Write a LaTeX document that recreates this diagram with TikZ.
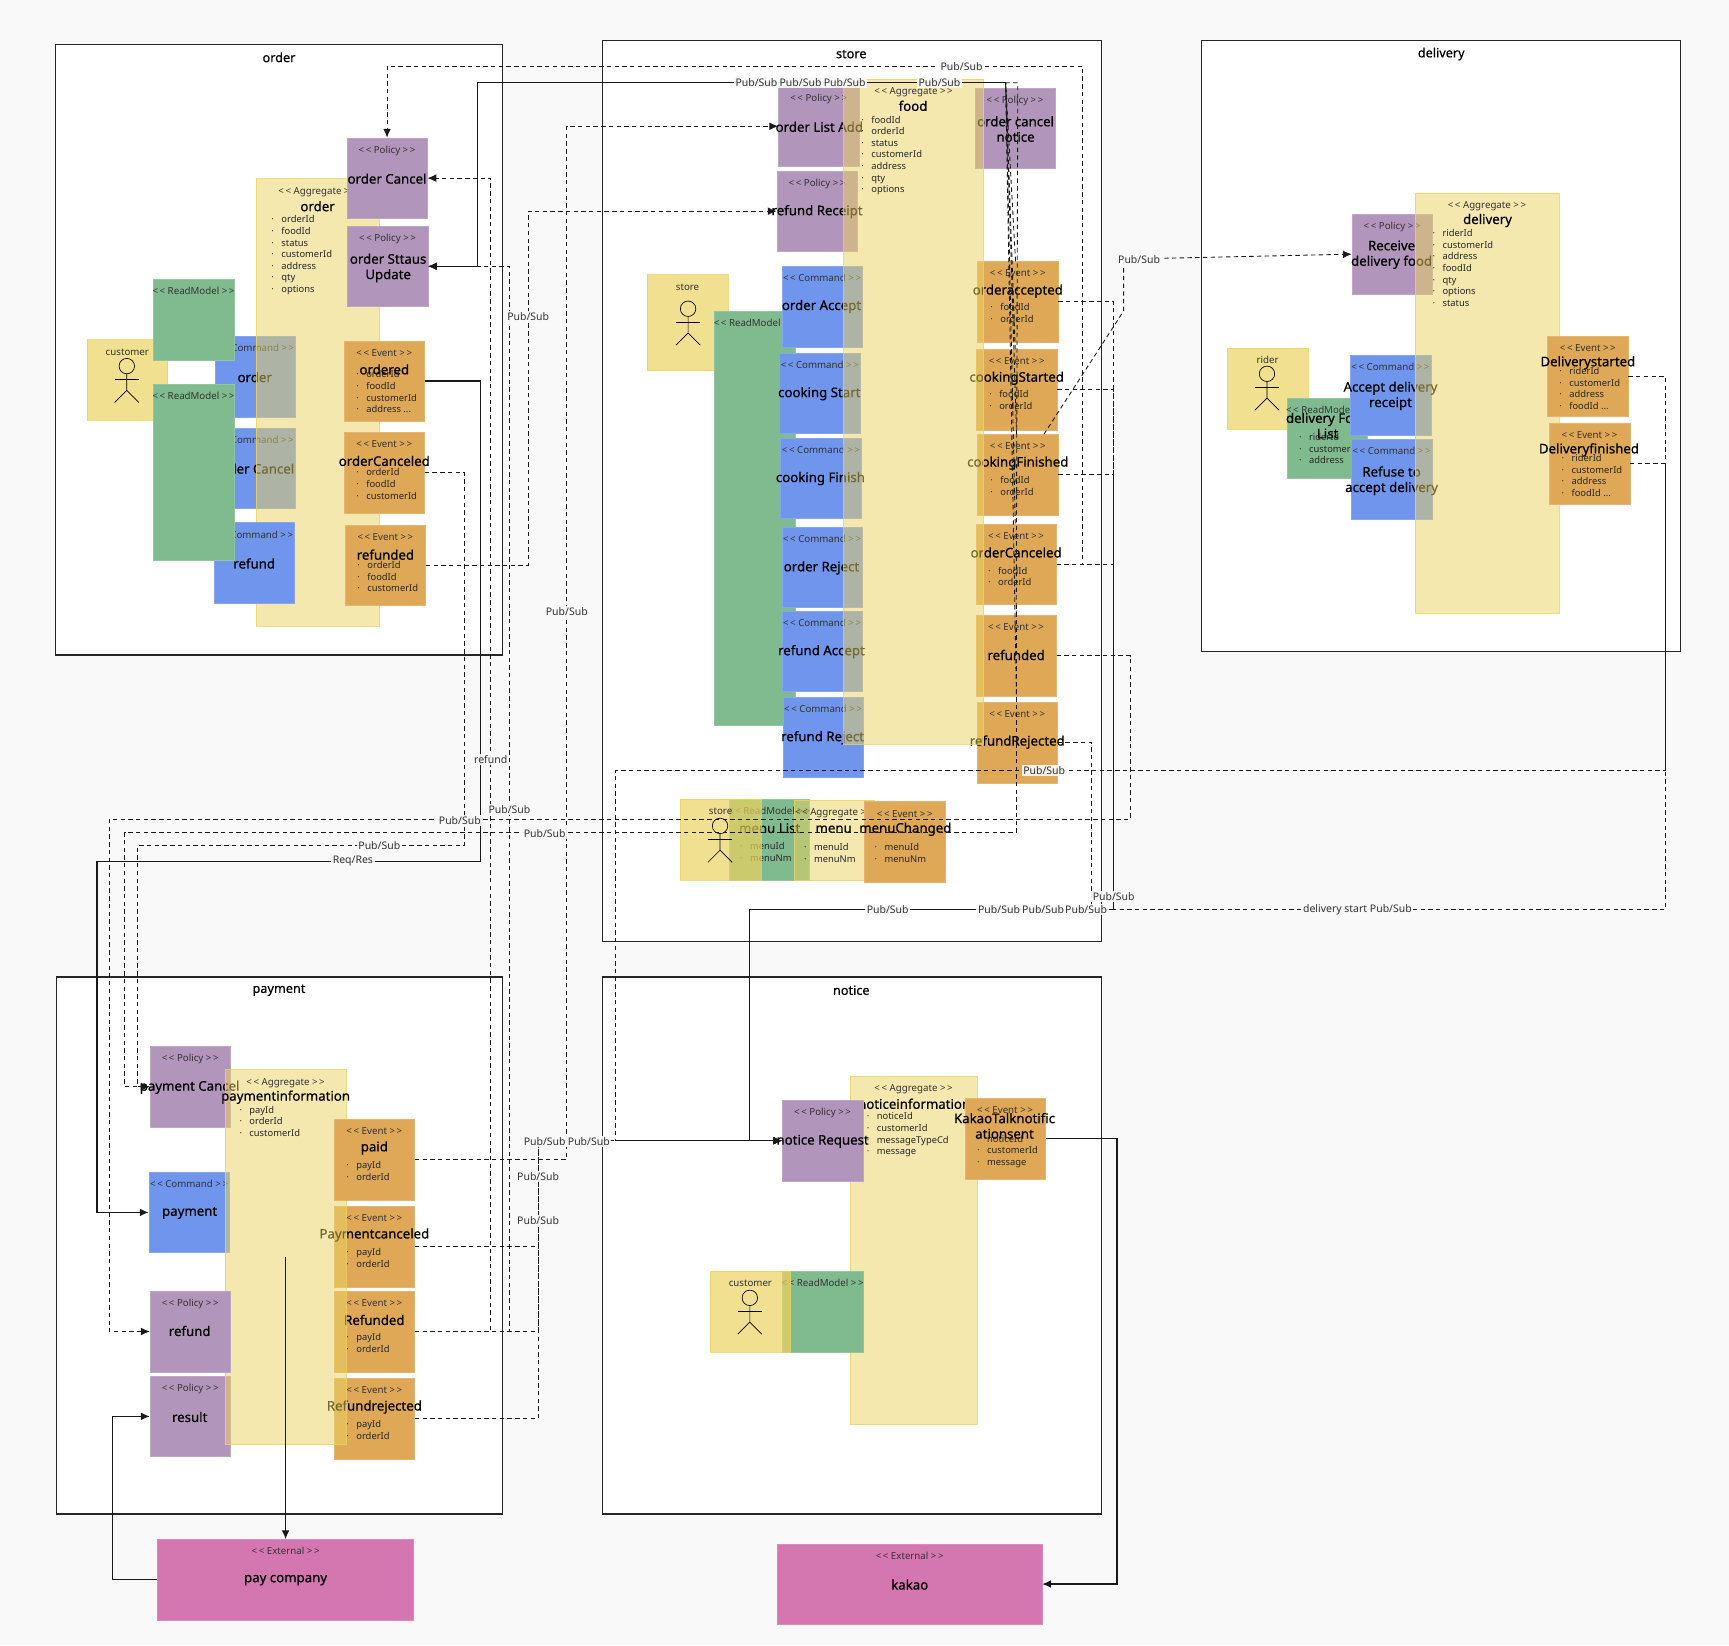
\documentclass[tikz,border=0pt]{standalone}
\usepackage{fontspec}
\setmainfont{Noto Sans}
\newfontfamily\titlefont[FakeBold=.5]{Noto Sans}
\usetikzlibrary{arrows.meta}
\definecolor{pagecol}{HTML}{F9F9F9}
\definecolor{policycol}{HTML}{B295BA}
\definecolor{commandcol}{HTML}{6F96EC}
\definecolor{eventcol}{HTML}{DEA857}
\definecolor{readcol}{HTML}{80BB8F}
\definecolor{extcol}{HTML}{D477B0}
\definecolor{stickycol}{HTML}{EBD361}
\newcommand{\itm}{\makebox[9pt][l]{\textbf{·}}}
\tikzset{
    stereo/.style={anchor=north, yshift=-7.5pt, inner sep=0pt, text height=6.5pt, text depth=2pt, text=black!80, opacity=1, font=\fontsize{8.8}{10}\selectfont},
    sticker/.style={inner sep=0pt, minimum width=73, minimum height=73},
    policy/.style={sticker, fill=policycol, draw=policycol!85!white, label={[stereo]north:<\,< Policy >\,>}},
    command/.style={sticker, fill=commandcol, draw=commandcol!85!white, label={[stereo]north:<\,< Command >\,>}},
    event/.style={sticker, fill=eventcol, draw=eventcol!85!white, label={[stereo]north:<\,< Event >\,>}},
    readmodel/.style={sticker, fill=readcol, draw=readcol!85!white, label={[stereo]north:<\,< ReadModel >\,>}},
    extsys/.style={sticker, fill=extcol, draw=extcol!85!white, label={[stereo]north:<\,< External >\,>}},
    aggregate/.style={sticker, fill=stickycol, fill opacity=.5, draw=stickycol, draw opacity=.8, text opacity=1, label={[stereo]north:<\,< Aggregate >\,>}},
    actor/.style={sticker, fill=stickycol, fill opacity=.7, draw=stickycol, draw opacity=.8, text opacity=1},
    ttl/.style={inner sep=0pt, align=center, font=\titlefont\fontsize{12}{14}\selectfont},
    attrs/.style={anchor=north west, inner sep=0pt, align=left, text=black!85, font=\fontsize{8.5}{10.5}\selectfont},
    boundary/.style={draw=black!85, line width=1pt, fill=white},
    boundaryttl/.style={inner sep=0pt, font=\titlefont\fontsize{11.5}{14}\selectfont},
    stickman/.pic={
        \draw[line width=.6pt] (0,0) circle (7);
        \draw[line width=.6pt] (-11,12) -- (11,12);
        \draw[line width=.6pt] (0,7) -- (0,22) -- (-11,33);
        \draw[line width=.6pt] (0,22) -- (11,33);
    },
    pubsub/.style={draw=black!90, line width=.8pt, dash pattern=on 4pt off 3pt},
    reqres/.style={draw=black!90, line width=1pt},
    link/.style={fill=pagecol, fill opacity=.9, text opacity=1, inner sep=1.5pt, text=black!80, font=\fontsize{9.5}{11}\selectfont}
}
\begin{document}
\begin{tikzpicture}[x=1pt, y=-1pt, >={Latex[length=8pt,width=7pt]}]
    \fill[pagecol] (0,0) rectangle (1568,1492);
    \useasboundingbox (0,0) rectangle (1568,1492);

    \draw[boundary] (50,40) rectangle (456,594);
    \draw[boundary] (546,37) rectangle (999,854);
    \draw[boundary] (1090,37) rectangle (1524,591);
    \draw[boundary] (51,886) rectangle (456,1373);
    \draw[boundary] (546,886) rectangle (999,1373);
    \node[boundaryttl] (orderTtl) at (253,52) {order};
    \node[boundaryttl] (storeTtl) at (772,49) {store};
    \node[boundaryttl] (deliveryTtl) at (1307,49) {delivery};
    \node[boundaryttl] (paymentTtl) at (253,898) {payment};
    \node[boundaryttl] (noticeTtl) at (772,898) {notice};

    % order
    \node[actor, label={[stereo]north:customer}] (orderActor) at (115.5,344.5) {};
    \pic (orderFigure) at (115,332) {stickman};
    \node[command] (orderCmd) at (231.5,341.5) {};
    \node[ttl] (orderCmdT) at (231,342) {order};
    \node[command] (orderCancelCmd) at (231,424.5) {};
    \node[ttl] (orderCancelCmdT) at (231,425) {order Cancel};
    \node[aggregate, minimum width=112, minimum height=406] (orderAgg) at (288,365) {};
    \node[ttl] (orderAggT) at (288,187) {order};
    \node[attrs] (orderAggA) at (246,195.5) {\itm orderId\\\itm foodId\\\itm status\\\itm customerId\\\itm address\\\itm qty\\\itm options};
    \node[command] (refundCmd) at (230.5,510.5) {};
    \node[ttl] (refundCmdT) at (230.5,511) {refund};
    \node[readmodel] (orderRead) at (175.5,290) {};
    \node[readmodel, minimum height=160] (cancelRead) at (175.5,428) {};
    \node[policy] (orderCancel) at (351,161.5) {};
    \node[ttl] (orderCancelT) at (351,162) {order Cancel};
    \node[policy] (orderStatus) at (351.5,241.5) {};
    \node[ttl] (orderStatusT) at (352,243) {order Sttaus\\Update};
    \node[event] (ordered) at (348.5,345.5) {};
    \node[attrs] (orderedA) at (323,336) {\itm orderId\\\itm foodId\\\itm customerId\\\itm address ...};
    \node[ttl] (orderedT) at (348.5,335) {ordered};
    \node[event] (orderCanceled) at (348.5,428.5) {};
    \node[ttl] (orderCanceledT) at (348.5,418) {orderCanceled};
    \node[attrs] (orderCanceledA) at (323,425) {\itm orderId\\\itm foodId\\\itm customerId};
    \node[event] (refunded) at (349.5,512.5) {};
    \node[ttl] (refundedT) at (349.5,503) {refunded};
    \node[attrs] (refundedA) at (324,509) {\itm orderId\\\itm foodId\\\itm customerId};

    % store
    \node[policy] (orderListAdd) at (742.5,114.5) {};
    \node[ttl] (orderListAddT) at (743,115) {order List Add};
    \node[policy] (refundReceipt) at (741,191.5) {};
    \node[ttl] (refundReceiptT) at (741,192) {refund Receipt};
    \node[actor, minimum height=87, label={[stereo]north:store}] (storeActor) at (623.5,292.5) {};
    \pic (storeFigure) at (624,280) {stickman};
    \node[readmodel, minimum height=376] (storeRead) at (684.5,470) {};
    \node[command] (orderAccept) at (745.5,278) {};
    \node[ttl] (orderAcceptT) at (745,278) {order Accept};
    \node[command] (cookingStart) at (743.5,356.5) {};
    \node[ttl] (cookingStartT) at (743,357) {cooking Start};
    \node[command] (cookingFinish) at (744.5,433.5) {};
    \node[ttl] (cookingFinishT) at (744,434) {cooking Finish};
    \node[command] (orderReject) at (745.5,514.5) {};
    \node[ttl] (orderRejectT) at (745,515) {order Reject};
    \node[command] (refundAccept) at (745.5,590.5) {};
    \node[ttl] (refundAcceptT) at (745,591) {refund Accept};
    \node[command] (refundReject) at (746.5,668.5) {};
    \node[ttl] (refundRejectT) at (746,669) {refund Reject};
    \node[policy] (cancelNotice) at (920.5,116.5) {};
    \node[ttl] (cancelNoticeT) at (921,117) {order cancel\\notice};
    \node[event] (orderAccepted) at (923,273.5) {};
    \node[ttl] (orderAcceptedT) at (923,264) {orderaccepted};
    \node[attrs] (orderAcceptedA) at (898,275) {\itm foodId\\\itm orderId};
    \node[event] (cookingStarted) at (922,353.5) {};
    \node[ttl] (cookingStartedT) at (922,343) {cookingStarted};
    \node[attrs] (cookingStartedA) at (897,354) {\itm foodId\\\itm orderId};
    \node[event] (cookingFinished) at (923,430.5) {};
    \node[ttl] (cookingFinishedT) at (923,420) {cookingFinished};
    \node[attrs] (cookingFinishedA) at (898,432) {\itm foodId\\\itm orderId};
    \node[event] (storeOrderCanceled) at (921.5,511.5) {};
    \node[ttl] (storeOrderCanceledT) at (921.5,501) {orderCanceled};
    \node[attrs] (storeOrderCanceledA) at (896,514) {\itm foodId\\\itm orderId};
    \node[event] (storeRefunded) at (921.5,594.5) {};
    \node[ttl] (storeRefundedT) at (921.5,594) {refunded};
    \node[event] (refundRejected) at (922.5,673.5) {};
    \node[ttl] (refundRejectedT) at (922.5,673) {refundRejected};
    \node[aggregate, minimum width=127, minimum height=603] (foodAgg) at (828.5,373.5) {};
    \node[ttl] (foodAggT) at (828,96) {food};
    \node[attrs] (foodAggA) at (781,105) {\itm foodId\\\itm orderId\\\itm status\\\itm customerId\\\itm address\\\itm qty\\\itm options};

    % menu
    \node[readmodel] (menuRead) at (697.5,761.5) {};
    \node[ttl] (menuReadT) at (698,751) {menu List};
    \node[attrs] (menuReadA) at (671,764) {\itm menuId\\\itm menuNm};
    \node[actor, label={[stereo]north:store}] (menuActor) at (653.5,761.5) {};
    \pic (menuFigure) at (653,749) {stickman};
    \node[aggregate, minimum width=73] (menuAgg) at (756.5,762) {};
    \node[ttl] (menuAggT) at (756,752) {menu};
    \node[attrs] (menuAggA) at (729,765) {\itm menuId\\\itm menuNm};
    \node[event] (menuChanged) at (820.5,763.5) {};
    \node[ttl] (menuChangedT) at (821,752) {menuChanged};
    \node[attrs] (menuChangedA) at (793,765) {\itm menuId\\\itm menuNm};

    % delivery
    \node[actor, label={[stereo]north:rider}] (riderActor) at (1149.5,352.5) {};
    \pic (riderFigure) at (1149,339) {stickman};
    \node[readmodel] (deliveryRead) at (1203.5,397.5) {};
    \node[ttl] (deliveryReadT) at (1204,386) {delivery Food\\List};
    \node[attrs] (deliveryReadA) at (1178,393) {\itm riderId\\\itm customerId\\\itm address};
    \node[policy] (receiveFood) at (1262.5,230.5) {};
    \node[ttl] (receiveFoodT) at (1262,231) {Receive\\delivery food};
    \node[command] (acceptDelivery) at (1261,358.5) {};
    \node[ttl] (acceptDeliveryT) at (1261,359) {Accept delivery\\receipt};
    \node[command] (refuseDelivery) at (1262,434.5) {};
    \node[ttl] (refuseDeliveryT) at (1262,436) {Refuse to\\accept delivery};
    \node[aggregate, minimum width=131, minimum height=381] (deliveryAgg) at (1348.5,365.5) {};
    \node[ttl] (deliveryAggT) at (1349,200) {delivery};
    \node[attrs] (deliveryAggA) at (1299,208) {\itm riderId\\\itm customerId\\\itm address\\\itm foodId\\\itm qty\\\itm options\\\itm status};
    \node[event] (deliveryStarted) at (1440,341) {};
    \node[attrs] (deliveryStartedA) at (1414,333) {\itm riderId\\\itm customerId\\\itm address\\\itm foodId ...};
    \node[ttl] (deliveryStartedT) at (1440,329) {Deliverystarted};
    \node[event] (deliveryFinished) at (1441.5,420.5) {};
    \node[attrs] (deliveryFinishedA) at (1416,412) {\itm riderId\\\itm customerId\\\itm address\\\itm foodId ...};
    \node[ttl] (deliveryFinishedT) at (1441,408) {Deliveryfinished};

    % payment
    \node[policy] (paymentCancel) at (172.5,985.5) {};
    \node[ttl] (paymentCancelT) at (172,986) {payment Cancel};
    \node[command] (paymentCmd) at (171.5,1099.5) {};
    \node[ttl] (paymentCmdT) at (172,1100) {payment};
    \node[policy] (resultPolicy) at (172.5,1284.5) {};
    \node[ttl] (resultPolicyT) at (172,1285) {result};
    \node[event] (paymentCanceled) at (339.5,1130.5) {};
    \node[ttl] (paymentCanceledT) at (339.5,1120) {Paymentcanceled};
    \node[attrs] (paymentCanceledA) at (314,1132) {\itm payId\\\itm orderId};
    \node[event] (payRefunded) at (339.5,1207.5) {};
    \node[ttl] (payRefundedT) at (339.5,1197) {Refunded};
    \node[attrs] (payRefundedA) at (314,1209) {\itm payId\\\itm orderId};
    \node[event] (refundrejected) at (339.5,1286.5) {};
    \node[ttl] (refundrejectedT) at (339.5,1276) {Refundrejected};
    \node[attrs] (refundrejectedA) at (314,1288) {\itm payId\\\itm orderId};
    \node[aggregate, minimum width=110, minimum height=340] (paymentAgg) at (259,1140) {};
    \node[ttl] (paymentAggT) at (259,995) {paymentinformation};
    \node[attrs] (paymentAggA) at (217,1003) {\itm payId\\\itm orderId\\\itm customerId};
    \node[policy] (refundPolicy) at (172.5,1207.5) {};
    \node[ttl] (refundPolicyT) at (172,1207) {refund};
    \node[event] (paid) at (339.5,1051.5) {};
    \node[ttl] (paidT) at (339.5,1041) {paid};
    \node[attrs] (paidA) at (314,1053) {\itm payId\\\itm orderId};
    \node[extsys, minimum width=232] (payCompany) at (259,1432.5) {};
    \node[ttl] (payCompanyT) at (259,1433) {pay company};

    % notice
    \node[aggregate, minimum width=115, minimum height=316] (noticeAgg) at (828.5,1134) {};
    \node[ttl] (noticeAggT) at (829,1001) {noticeinformation};
    \node[attrs] (noticeAggA) at (786,1009) {\itm noticeId\\\itm customerId\\\itm messageTypeCd\\\itm message};
    \node[readmodel] (noticeRead) at (746,1189.5) {};
    \node[actor, label={[stereo]north:customer}] (noticeActor) at (680.5,1189.5) {};
    \pic (noticeFigure) at (680,1177) {stickman};
    \node[policy] (noticeRequest) at (746,1034.5) {};
    \node[ttl] (noticeRequestT) at (746,1035) {notice Request};
    \node[event] (kakaoSent) at (911.5,1032.5) {};
    \node[attrs] (kakaoSentA) at (886,1029) {\itm noticeId\\\itm customerId\\\itm message};
    \node[ttl] (kakaoSentT) at (911,1021) {KakaoTalknotific\\ationsent};
    \node[extsys, minimum width=240] (kakao) at (825,1436.5) {};
    \node[ttl] (kakaoT) at (825,1437) {kakao};

    \coordinate (statusBus) at (912,75);
    \coordinate (deliveryBus) at (1010,825);
    \coordinate (noticeBus) at (488,1034.5);

    \draw[pubsub, ->] (storeOrderCanceled.east) -| (982,60) -| (orderCancel.north);
    \draw[pubsub, ->] (orderCanceled.east) -| (421,767) -- (125,767) |- (paymentCancel.west);
    \draw[pubsub, ->] (storeOrderCanceled.south) |- (113,755) |- (paymentCancel.west);
    \draw[pubsub, ->] (storeRefunded.east) -| (1025,743) -- (99,743) |- (refundPolicy.west);
    \draw[pubsub, ->] (refunded.east) -- (479,512.5) |- (refundReceipt.west);
    \draw[pubsub, ->] (paid.east) -- (514,1051.5) |- (orderListAdd.west);
    \draw[pubsub, ->] (payRefunded.east) -- (445,1207.5) |- (orderCancel.east);
    \draw[pubsub, ->] (payRefunded.east) -- (462,1207.5) |- (orderStatus.east);
    \draw[pubsub, ->] (paymentCanceled.east) -| (noticeBus) -- (noticeRequest.west);
    \draw[pubsub] (payRefunded.east) -| (noticeBus);
    \draw[pubsub] (refundrejected.east) -| (noticeBus);
    \draw[pubsub] (paid.east) -| (514,1034.5);
    \draw[pubsub] (orderAccepted) -- (statusBus);
    \draw[pubsub] (cookingStarted) -- (statusBus);
    \draw[pubsub] (cookingFinished) -- (statusBus);
    \draw[pubsub] (storeOrderCanceled) -- (statusBus);
    \draw[pubsub] (refundRejected) -- (statusBus);
    \draw[pubsub] (storeRefunded) -- (923,75) -- (statusBus);
    \draw[pubsub] (orderAccepted.east) -| (deliveryBus);
    \draw[pubsub] (cookingStarted.east) -| (deliveryBus);
    \draw[pubsub] (cookingFinished.east) -| (deliveryBus);
    \draw[pubsub] (storeOrderCanceled.east) -| (deliveryBus);
    \draw[pubsub] (refundRejected.east) -| (990,825);
    \draw[pubsub] (deliveryStarted.east) -| (1510,825) -- (deliveryBus);
    \draw[pubsub, ->] (deliveryFinished.east) -| (1510,699) -- (558,699) |- (noticeRequest.west);
    \draw[pubsub, ->] (cookingFinished) -- (1019,282) -- (1019,235) -- (receiveFood.west);

    \draw[reqres, ->] (ordered.east) -| (436,781) -- (88,781) |- (paymentCmd.west);
    \draw[reqres, <-] (orderStatus.east) -| (433,75) -- (statusBus);
    \draw[reqres, ->] (deliveryBus) -- (680,825) |- (noticeRequest.west);
    \draw[reqres, ->] (paymentAgg.center) -- (payCompany.north);
    \draw[reqres, ->] (payCompany.west) -- (102,1432.5) |- (resultPolicy.west);
    \draw[reqres, ->] (kakaoSent.east) -- (1013,1032.5) |- (kakao.east);

    \node[link] (linkA) at (872,60) {Pub/Sub};
    \node[link] (linkB) at (686,75) {Pub/Sub};
    \node[link] (linkC) at (726,75) {Pub/Sub};
    \node[link] (linkD) at (766,75) {Pub/Sub};
    \node[link] (linkE) at (852,75) {Pub/Sub};
    \node[link] (linkF) at (1033,235) {Pub/Sub};
    \node[link] (linkG) at (479,287) {Pub/Sub};
    \node[link] (linkH) at (514,555) {Pub/Sub};
    \node[link] (linkI) at (445,689) {refund};
    \node[link] (linkJ) at (947,699) {Pub/Sub};
    \node[link] (linkK) at (462,734) {Pub/Sub};
    \node[link] (linkL) at (417,744) {Pub/Sub};
    \node[link] (linkM) at (494,756) {Pub/Sub};
    \node[link] (linkN) at (344,767) {Pub/Sub};
    \node[link] (linkO) at (320,781) {Req/Res};
    \node[link] (linkP) at (1010,813) {Pub/Sub};
    \node[link] (linkQ) at (805,825) {Pub/Sub};
    \node[link] (linkR) at (906,825) {Pub/Sub};
    \node[link] (linkS) at (946,825) {Pub/Sub};
    \node[link] (linkT) at (985,825) {Pub/Sub};
    \node[link] (linkU) at (1231,825) {delivery start Pub/Sub};
    \node[link] (linkV) at (494,1035) {Pub/Sub};
    \node[link] (linkW) at (534,1035) {Pub/Sub};
    \node[link] (linkX) at (488,1067) {Pub/Sub};
    \node[link] (linkY) at (488,1107) {Pub/Sub};
\end{tikzpicture}
\end{document}
